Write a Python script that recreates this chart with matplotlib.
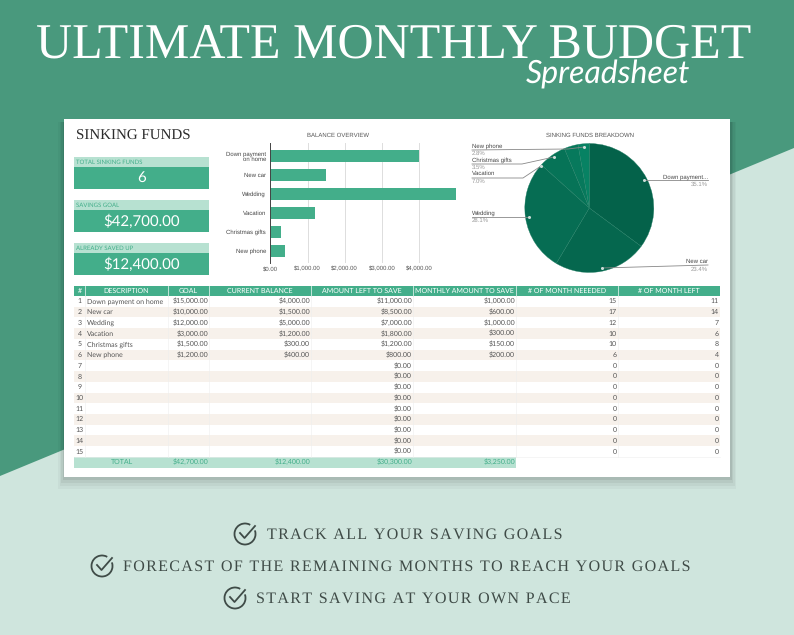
import matplotlib
matplotlib.use('Agg')
import matplotlib.pyplot as plt
from matplotlib.patches import Rectangle, Polygon, Arc

plt.rcParams['text.hinting'] = 'no_hinting'
plt.rcParams['text.hinting_factor'] = 1

W, H = 794, 635

# chart data
categories = ['Down payment\non home', 'New car', 'Wedding', 'Vacation', 'Christmas gifts', 'New phone']
names = ['Down payment on home', 'New car', 'Wedding', 'Vacation', 'Christmas gifts', 'New phone']
goal = [15000, 10000, 12000, 3000, 1500, 1200]
balance = [4000, 1500, 5000, 1200, 300, 400]
left_to_save = [11000, 8500, 7000, 1800, 1200, 800, 0, 0, 0, 0, 0, 0, 0, 0, 0]
monthly = [1000, 600, 1000, 300, 150, 200]
months_needed = [15, 17, 12, 10, 10, 6, 0, 0, 0, 0, 0, 0, 0, 0, 0]
months_left = [11, 14, 7, 6, 8, 4, 0, 0, 0, 0, 0, 0, 0, 0, 0]
totals = [42700, 12400, 30300, 3250]
headers = ['#', 'DESCRIPTION', 'GOAL', 'CURRENT BALANCE', 'AMOUNT LEFT TO SAVE',
           'MONTHLY AMOUNT TO SAVE', '# OF MONTH NEEEDED', '# OF MONTH LEFT']
cards = [('TOTAL SINKING FUNDS', '6'), ('SAVINGS GOAL', '$42,700.00'), ('ALREADY SAVED UP', '$12,400.00')]
bullets = ['TRACK ALL YOUR SAVING GOALS', 'FORECAST OF THE REMAINING MONTHS TO REACH YOUR GOALS',
           'START SAVING AT YOUR OWN PACE']
pie_labels = ['Down payment...', 'New car', 'Wedding', 'Vacation', 'Christmas gifts', 'New phone']
pie_colors = ['#04624A', '#05674E', '#066D53', '#067357', '#07795C', '#078263']

GREEN = '#43AE8A'
PALE = '#B7E1D1'
BAND = '#F7F1EB'
hair = '\u200a'


def money(v):
    return f'${v:,.2f}'


def spaced(s):
    return hair.join(s)


def px_axes(x0, y0, x1, y1, z=1):
    # axes from pixel box, y measured from the top
    return fig.add_axes([x0 / W, 1 - y1 / H, (x1 - x0) / W, (y1 - y0) / H], zorder=z)


fig = plt.figure(figsize=(7.94, 6.35), dpi=100)

bg = px_axes(0, 0, W, H, 0)
bg.set_xlim(0, W)
bg.set_ylim(H, 0)
bg.axis('off')

# background
bg.add_patch(Rectangle((0, 0), W, H, color='#CFE5DD', lw=0))
bg.add_patch(Polygon([(0, 0), (W, 0), (W, 148), (0, 476)], color='#49997D', lw=0))

# sheet and its shadow
for i, a in enumerate([0.03, 0.04, 0.05, 0.07]):
    off = 12 - i * 3
    bg.add_patch(Rectangle((64 - off * 0.5, 122), 666 + off, 355 + off, color='black', alpha=a, lw=0))
bg.add_patch(Rectangle((64, 119), 666, 358, color='white', lw=0))

# titles
bg.text(394, 45, 'ULTIMATE MONTHLY BUDGET', family='Liberation Serif', fontsize=36,
        color='white', ha='center', va='center')
bg.text(608, 74, 'Spreadsheet', family='Lato', style='italic', fontsize=23,
        color='white', ha='center', va='center')
bg.text(76, 136, 'SINKING FUNDS', family='Liberation Serif', fontsize=10.6, color='#2B2B2B',
        ha='left', va='center')

# summary cards
for (label, val), y in zip(cards, [157, 200, 243]):
    bg.add_patch(Rectangle((74, y), 135, 10, color=PALE, lw=0))
    bg.add_patch(Rectangle((74, y + 10), 135, 22, color=GREEN, lw=0))
    bg.text(76, y + 5.3, label, family='Lato', fontsize=4.65, color=GREEN, ha='left', va='center')
    bg.text(141.5, y + 21, val, family='Lato', fontsize=11, color='white', ha='center', va='center')

# bar chart
bg.text(338, 135, 'BALANCE OVERVIEW', family='Liberation Sans', fontsize=4.35, color='#555555',
        ha='center', va='center')
ax = px_axes(270.3, 143, 456.5, 263)
ax.barh(range(len(balance)), balance, height=0.63, color=GREEN)
ax.set_ylim(5.63, -0.68)
ax.set_xlim(0, 5000)
ax.set_xticks([0, 1000, 2000, 3000, 4000, 5000])
ax.set_xticklabels(['$0.00', '$1,000.00', '$2,000.00', '$3,000.00', '$4,000.00', ''],
                   family='Liberation Sans', fontsize=4.4, color='#555555')
ax.set_yticks(range(len(categories)))
ax.set_yticklabels(categories, family='Liberation Sans', fontsize=4.4, color='#444444', linespacing=1.0)
ax.tick_params(length=0, pad=3)
ax.tick_params(axis='x', pad=2)
ax.grid(axis='x', color='#DDDDDD', lw=0.7)
ax.set_axisbelow(True)
for s in ['top', 'right', 'bottom']:
    ax.spines[s].set_visible(False)
ax.spines['left'].set_color('#444444')
ax.spines['left'].set_linewidth(0.7)
ax.patch.set_alpha(0)

# pie chart
bg.text(590, 135, 'SINKING FUNDS BREAKDOWN', family='Liberation Sans', fontsize=4.35, color='#555555',
        ha='center', va='center')
pax = px_axes(524.8, 143.5, 653.8, 272.5)
pax.pie(goal, colors=pie_colors, startangle=90, counterclock=False, radius=1,
        wedgeprops={'edgecolor': '#1F7D62', 'linewidth': 0.25})
pax.set_xlim(-1, 1)
pax.set_ylim(-1, 1)

# leader lines go on top of the pie
top = px_axes(0, 0, W, H, 3)
top.set_xlim(0, W)
top.set_ylim(H, 0)
top.axis('off')
top.patch.set_alpha(0)
leaders = [[(644, 180), (708, 180)], [(602, 268), (708, 265)], [(529, 217), (472, 217)],
           [(541, 166), (523, 178), (472, 178)], [(554, 157), (522, 164), (472, 164)],
           [(584, 147), (568, 149), (472, 150)]]
spots = [(708, 177, 'right'), (708, 261.5, 'right'), (472, 213, 'left'),
         (472, 173.5, 'left'), (472, 160, 'left'), (472, 146, 'left')]
for i, (pts, (x, y, ha)) in enumerate(zip(leaders, spots)):
    top.plot([p[0] for p in pts], [p[1] for p in pts], color='#888888', lw=0.6)
    top.plot(pts[0][0], pts[0][1], 'o', ms=1.2, color='#CCDDD8')
    top.text(x, y, pie_labels[i], family='Liberation Sans', fontsize=4.4, color='#444444', ha=ha, va='center')
    top.text(x, y + 7.5, f'{goal[i] / sum(goal) * 100:.1f}%', family='Liberation Sans', fontsize=4.4,
             color='#999999', ha=ha, va='center')

# table
cols = [74, 85, 168, 209, 311, 413, 516, 618, 720]
y_head, y_rows, row_h = 286, 296, 10.73
bg.add_patch(Rectangle((74, y_head), 646, y_rows - y_head, color=GREEN, lw=0))
for i, h in enumerate(headers):
    bg.text((cols[i] + cols[i + 1]) / 2, y_head + 5.2, h, family='Lato', fontsize=5.0, color='white',
            ha='center', va='center')
for x in cols[1:-1]:
    bg.plot([x, x], [y_head, y_rows], color='#D5EEE5', lw=0.6)
for r in range(15):
    y = y_rows + r * row_h
    bg.add_patch(Rectangle((74, y), 646, row_h, color=BAND if r % 2 else 'white', lw=0))
    yc = y + row_h / 2
    row = dict(family='Lato', fontsize=4.8, color='#555555', va='center')
    bg.text(79.5, yc, str(r + 1), ha='center', **row)
    if r < len(names):
        bg.text(87, yc, names[r], ha='left', family='Lato', fontsize=4.7, color='#555555', va='center')
        bg.text(cols[3] - 1, yc, money(goal[r]), ha='right', **row)
        bg.text(cols[4] - 1, yc, money(balance[r]), ha='right', **row)
        bg.text(cols[6] - 1, yc, money(monthly[r]), ha='right', **row)
    bg.text(cols[5] - 1, yc, money(left_to_save[r]), ha='right', **row)
    bg.text(cols[7] - 1.5, yc, str(months_needed[r]), ha='right', **row)
    bg.text(cols[8] - 1.5, yc, str(months_left[r]), ha='right', **row)
y_total = y_rows + 15 * row_h
for x in cols[1:-1]:
    bg.plot([x, x], [y_rows, y_total], color='#EEEEEE', lw=0.4)
bg.plot([74, 720], [y_total, y_total], color='#EEEEEE', lw=0.4)
bg.add_patch(Rectangle((74, y_total), 442, 10.8, color=PALE, lw=0))
bg.text(122, y_total + 5.4, 'TOTAL', family='Lato', fontsize=4.8, color=GREEN, ha='center', va='center')
for x, t in zip(cols[3:7], totals):
    bg.text(x - 1, y_total + 5.4, money(t), family='Lato', fontsize=4.8, color=GREEN, ha='right', va='center')

# bullet lines with check icons
ink = '#3F4B47'
for text, xt, xi, y in zip(bullets, [267, 123, 256], [245, 102, 235], [534, 566, 598]):
    bg.text(xt, y + 1, spaced(text), family='Liberation Serif', fontsize=11.7, color=ink, ha='left', va='center')
    bg.add_patch(Arc((xi, y), 21, 21, theta1=-20, theta2=300, color=ink, lw=1.3))
    bg.plot([xi - 5, xi - 0.5, xi + 10], [y - 1, y + 4, y - 8], color=ink, lw=1.3)

fig.savefig('out.png', dpi=100)
